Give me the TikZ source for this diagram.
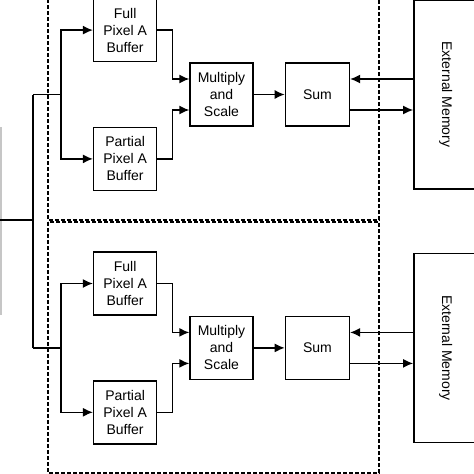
\documentclass[tikz,border=0pt]{standalone}
\usepackage{fontspec}
\setmainfont{Liberation Sans}
\usetikzlibrary{arrows.meta, calc, positioning}
\tikzset {
    block/.style = {
        draw,
        shape = rectangle,
        line width=1.4pt,
        minimum width=63pt,
        minimum height=63pt,
        inner sep=0pt,
        align=center,
        font=\fontsize{14}{17}\selectfont
    },
    memory/.style = {
        block,
        minimum width=64pt,
        minimum height=189pt
    },
    stage/.style = {
        draw,
        line width=1.4pt,
        dash pattern=on 4pt off 2pt
    },
    wire/.style = {
        line width=1.4pt,
        draw
    },
    link/.style = {
        wire,
        -{Latex[length=10pt, width=9pt]}
    }
}
\begin{document}
\begin{tikzpicture}[x=1pt, y=-1pt]
        \useasboundingbox (0, 0) rectangle (474, 474);

        % First stage : buffers, multiply, sum, memory
        \node [block] at (221.5, 94.5)                      (mult1)     {Multiply\\and\\Scale};
        \node [block, above left=0pt and 32pt of mult1]     (full1)     {Full\\Pixel A\\Buffer};
        \node [block, below left=0pt and 32pt of mult1]     (partial1)  {Partial\\Pixel A\\Buffer};
        \node [block, minimum width=64pt, right=31pt of mult1] (sum1)   {Sum};
        \node [memory, right=63pt of sum1]                  (mem1)      {\rotatebox{-90}{External Memory}};
        \coordinate (split1) at ($(full1.west |- mult1) + (-32pt, 0)$);

        % Second stage : same as the first one, further down
        \node [block, below=189pt of mult1]                 (mult2)     {Multiply\\and\\Scale};
        \node [block, above left=0pt and 32pt of mult2]     (full2)     {Full\\Pixel A\\Buffer};
        \node [block, below left=0pt and 32pt of mult2]     (partial2)  {Partial\\Pixel A\\Buffer};
        \node [block, minimum width=64pt, right=31pt of mult2] (sum2)   {Sum};
        \node [memory, right=63pt of sum2]                  (mem2)      {\rotatebox{-90}{External Memory}};
        \coordinate (split2) at ($(full2.west |- mult2) + (-32pt, 0)$);

        % Input and bus
        \coordinate (input) at (0, 220);
        \coordinate (bus)   at (33, 220);

        % Stage frames and the edge of the box on the left
        \path [stage]   (48, -31)   rectangle   (379, 220);
        \path [stage]   (48, 222)   rectangle   (379, 473);
        \path [draw, gray!45, line width=2pt]   (1, 127)    --  (1, 315);

        \path [wire]    (input)         --  (bus);
        \path [wire]    (split1 -| bus) --  (split2 -| bus);
        \path [wire]    (split1 -| bus) --  (split1);
        \path [wire]    (split2 -| bus) --  (split2);

        \path [link]    (split1)        |-  (full1);
        \path [link]    (split1)        |-  (partial1);
        \path [link]    (full1.east)    --  ++(15pt, 0)     |-  ([yshift=15.5pt]mult1.west);
        \path [link]    (partial1.east) --  ++(15pt, 0)     |-  ([yshift=-15.5pt]mult1.west);
        \path [link]    (mult1)         --  (sum1);
        \path [link]    ([yshift=15.5pt]mem1.west)  --  ([yshift=15.5pt]sum1.east);
        \path [link]    ([yshift=-15.5pt]sum1.east) --  ([yshift=-15.5pt]mem1.west);

        \path [link]    (split2)        |-  (full2);
        \path [link]    (split2)        |-  (partial2);
        \path [link]    (full2.east)    --  ++(15pt, 0)     |-  ([yshift=15.5pt]mult2.west);
        \path [link]    (partial2.east) --  ++(15pt, 0)     |-  ([yshift=-15.5pt]mult2.west);
        \path [link]    (mult2)         --  (sum2);
        \path [link]    ([yshift=15.5pt]mem2.west)  --  ([yshift=15.5pt]sum2.east);
        \path [link]    ([yshift=-15.5pt]sum2.east) --  ([yshift=-15.5pt]mem2.west);
\end{tikzpicture}
\end{document}
